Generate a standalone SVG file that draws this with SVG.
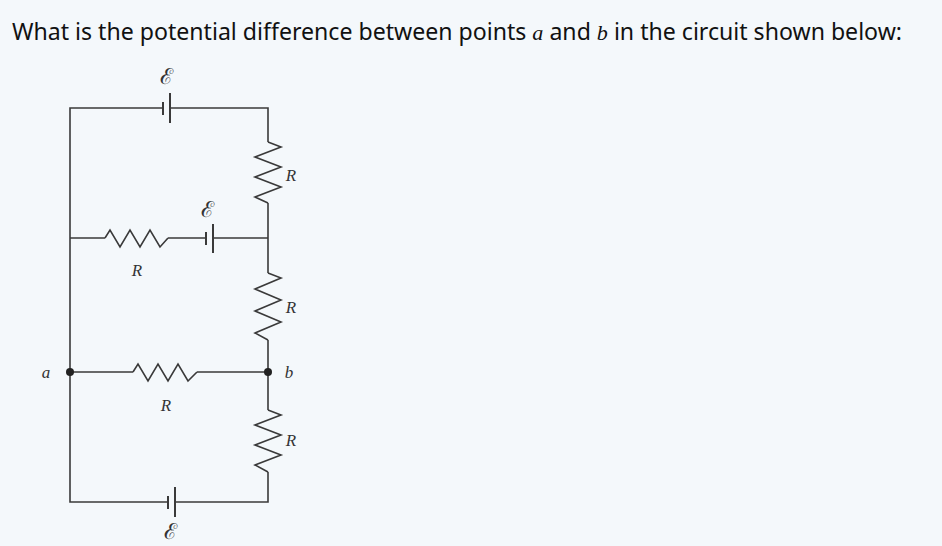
<svg xmlns="http://www.w3.org/2000/svg" width="942" height="546" viewBox="0 0 942 546">
<style>
.w{fill:none;stroke:#3a3a3a;stroke-width:1.6;stroke-linejoin:miter}
.p{stroke:#3a3a3a;stroke-width:2}
.l{font-family:"Liberation Serif",serif;font-style:italic;font-size:17px;fill:#333}
.e{font-family:"DejaVu Serif",serif;font-size:22px;fill:#333}
.t{font-family:"Noto Sans","Open Sans",sans-serif;font-size:23px;fill:#111}
.m{font-family:"Liberation Serif",serif;font-style:italic;font-size:22px;fill:#111}
</style>
<rect width="942" height="546" fill="#f4f8fb"/>
<text class="t" x="12" y="40" textLength="890" lengthAdjust="spacingAndGlyphs">What is the potential difference between points <tspan class="m">a</tspan> and <tspan class="m">b</tspan> in the circuit shown below:</text>
<g id="connectors">
<path class="w" d="M163,108 H70 V502 H168 M175,502 H268 V472 M268,410 V340 M268,273 V203 M268,142 V108 H170"/>
<path class="w" d="M70,238 H105 M168,238 H206 M213,238 H268"/>
<path class="w" d="M70,372 H133 M197,372 H268"/>
</g>
<g id="bat-top"><line class="p" x1="163" y1="102" x2="163" y2="115"/><line class="p" x1="170" y1="93" x2="170" y2="123"/><text class="e" x="166" y="84" text-anchor="middle">ℰ</text></g>
<g id="bat-mid"><line class="p" x1="206" y1="232" x2="206" y2="245"/><line class="p" x1="213" y1="224" x2="213" y2="253"/><text class="e" x="207" y="217" text-anchor="middle">ℰ</text></g>
<g id="bat-bot"><line class="p" x1="168" y1="496" x2="168" y2="509"/><line class="p" x1="175" y1="487" x2="175" y2="517"/><text class="e" x="170" y="539" text-anchor="middle">ℰ</text></g>
<g id="r-mid"><path class="w" d="M105,238 L110,230 L120,247 L130,230 L140,247 L150,230 L160,247 L168,238"/><text class="l" x="137" y="276" text-anchor="middle">R</text></g>
<g id="r-ab"><path class="w" d="M133,372 L138,364 L148,381 L158,364 L168,381 L178,364 L188,381 L197,372"/><text class="l" x="166" y="411" text-anchor="middle">R</text></g>
<g id="r-top"><path class="w" d="M268,142 L281,147 L255,157 L281,167 L255,177 L281,187 L255,197 L268,203"/><text class="l" x="291" y="181" text-anchor="middle">R</text></g>
<g id="r-midright"><path class="w" d="M268,273 L281,278 L255,289 L281,300 L255,311 L281,322 L255,333 L268,340"/><text class="l" x="291" y="313" text-anchor="middle">R</text></g>
<g id="r-bot"><path class="w" d="M268,410 L281,415 L255,425 L281,435 L255,445 L281,455 L255,465 L268,472"/><text class="l" x="291" y="446" text-anchor="middle">R</text></g>
<g id="a"><circle cx="70" cy="372" r="4" fill="#222"/><text class="l" x="46" y="378" font-size="18" text-anchor="middle">a</text></g>
<g id="b"><circle cx="268" cy="372" r="4" fill="#222"/><text class="l" x="289" y="378" font-size="18" text-anchor="middle">b</text></g>
</svg>
